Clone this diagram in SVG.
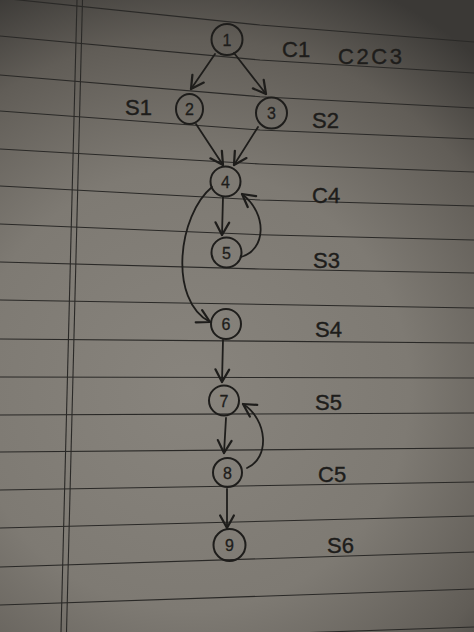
<svg xmlns="http://www.w3.org/2000/svg" width="474" height="632" viewBox="0 0 474 632">
<defs>
<radialGradient id="paper" cx="190" cy="390" r="440" gradientUnits="userSpaceOnUse">
<stop offset="0" stop-color="#88847d"/>
<stop offset="0.5" stop-color="#7e7a73"/>
<stop offset="0.8" stop-color="#615d57"/>
<stop offset="1" stop-color="#3b3936"/>
</radialGradient>
<marker id="arr" markerUnits="userSpaceOnUse" markerWidth="20" markerHeight="20" viewBox="-12 -8 14 16" refX="0" refY="0" orient="auto">
<path d="M-10,-5.5 L0,0 L-10,5.5" fill="none" stroke="#1e1d1b" stroke-width="1.8" stroke-linecap="round" stroke-linejoin="round"/>
</marker>
<style>
.rule{stroke:#2a2927;stroke-width:1.1;fill:none}
.node{fill:none;stroke:#1e1d1b;stroke-width:2}
.num{font-family:"Liberation Sans",Arial,sans-serif;font-size:16px;fill:#1e1d1b;stroke:#1e1d1b;stroke-width:0.3;text-anchor:middle}
.lbl{font-family:"Liberation Sans",Arial,sans-serif;font-size:22px;fill:#1e1d1b;stroke:#1e1d1b;stroke-width:0.4}
.edge{fill:none;stroke:#1e1d1b;stroke-width:1.8;stroke-linecap:round;marker-end:url(#arr)}
</style>
</defs>
<rect width="474" height="632" fill="url(#paper)"/>
<g id="paper-lines">
<polyline class="rule" points="0,-2 260,25 474,42"/>
<polyline class="rule" points="0,36 260,60 474,73"/>
<polyline class="rule" points="0,75 260,96.7 474,108"/>
<polyline class="rule" points="0,111 260,130 474,139"/>
<polyline class="rule" points="0,149 260,164 474,172"/>
<polyline class="rule" points="0,186 260,200 474,206"/>
<polyline class="rule" points="0,224 260,234.7 474,240"/>
<polyline class="rule" points="0,262 260,269 474,273"/>
<line class="rule" x1="0" y1="300" x2="474" y2="308"/>
<line class="rule" x1="0" y1="339" x2="474" y2="343"/>
<line class="rule" x1="0" y1="377" x2="474" y2="378"/>
<line class="rule" x1="0" y1="415" x2="474" y2="413"/>
<line class="rule" x1="0" y1="452" x2="474" y2="448"/>
<line class="rule" x1="0" y1="490" x2="474" y2="482"/>
<line class="rule" x1="0" y1="528" x2="474" y2="516"/>
<line class="rule" x1="0" y1="567" x2="474" y2="552"/>
<line class="rule" x1="0" y1="605" x2="474" y2="589"/>
<line class="rule" x1="0" y1="643" x2="474" y2="627"/>
<line class="rule" x1="77" y1="0" x2="61" y2="632"/>
<line class="rule" x1="82.5" y1="0" x2="66.5" y2="632"/>
</g>
<g id="connectors">
<path class="edge" d="M215,54 L191,89"/>
<path class="edge" d="M234,53 L266,94"/>
<path class="edge" d="M196,124 L223,165"/>
<path class="edge" d="M258,127 L234,165"/>
<path class="edge" d="M223,197 L222,235"/>
<path class="edge" d="M241,257 C266,250 268,214 242,194"/>
<path class="edge" d="M212,187 C178,215 168,300 210,322"/>
<path class="edge" d="M223,340 L222,382"/>
<path class="edge" d="M226,418 L224,453"/>
<path class="edge" d="M247,468 C270,458 268,420 243,404"/>
<path class="edge" d="M227,489 L227,528"/>
</g>
<g id="n1"><circle class="node" cx="227" cy="39.5" r="15.5"/><text class="num" x="227" y="45.5">1</text>
<text class="lbl" x="282" y="57">C1</text><text class="lbl" x="338" y="64" textLength="64">C2C3</text></g>
<g id="n2"><ellipse class="node" cx="189.5" cy="109" rx="13.5" ry="15"/><text class="num" x="189.5" y="115">2</text>
<text class="lbl" x="125" y="115">S1</text></g>
<g id="n3"><circle class="node" cx="271.5" cy="113" r="15.5"/><text class="num" x="271.5" y="119">3</text>
<text class="lbl" x="312" y="128">S2</text></g>
<g id="n4"><circle class="node" cx="225.5" cy="181.5" r="15"/><text class="num" x="225.5" y="187.5">4</text>
<text class="lbl" x="312" y="203">C4</text></g>
<g id="n5"><circle class="node" cx="226.5" cy="252.5" r="15"/><text class="num" x="226.5" y="258.5">5</text>
<text class="lbl" x="313" y="268">S3</text></g>
<g id="n6"><circle class="node" cx="226" cy="324" r="15"/><text class="num" x="226" y="330">6</text>
<text class="lbl" x="315" y="337">S4</text></g>
<g id="n7"><circle class="node" cx="224" cy="400.5" r="15"/><text class="num" x="224" y="406.5">7</text>
<text class="lbl" x="315" y="410">S5</text></g>
<g id="n8"><circle class="node" cx="227.5" cy="472.5" r="14.5"/><text class="num" x="227.5" y="478.5">8</text>
<text class="lbl" x="318" y="482">C5</text></g>
<g id="n9"><circle class="node" cx="229.5" cy="545" r="16"/><text class="num" x="229.5" y="551">9</text>
<text class="lbl" x="327" y="553">S6</text></g>
</svg>
